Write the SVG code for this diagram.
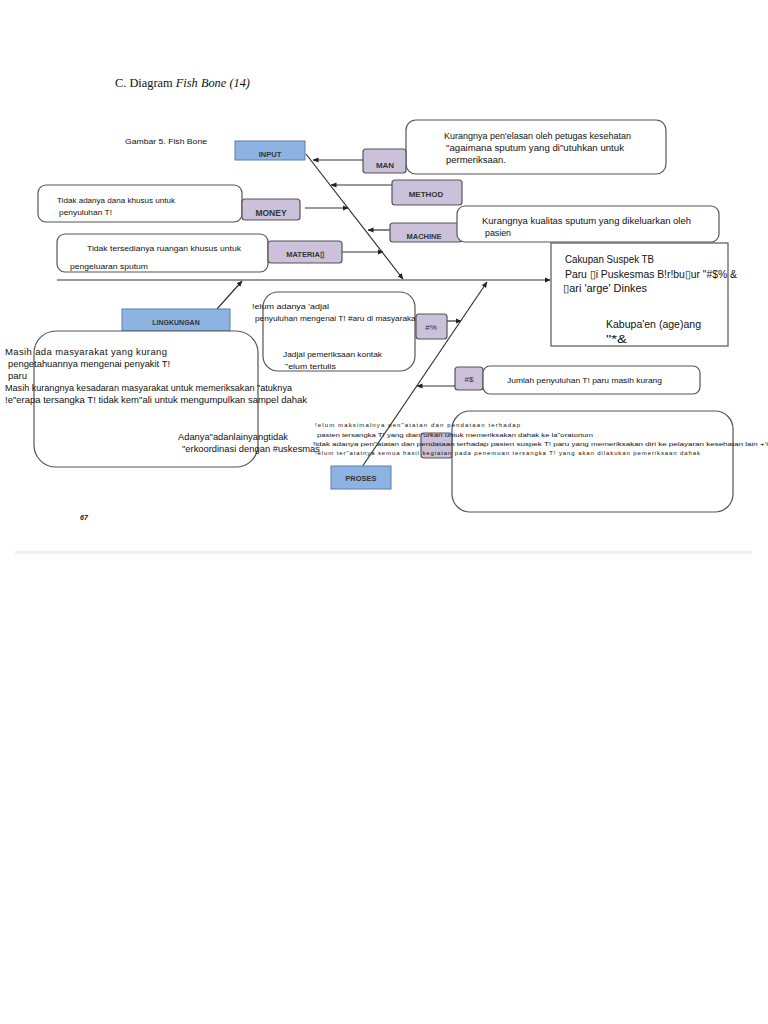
<svg xmlns="http://www.w3.org/2000/svg" width="768" height="1024" viewBox="0 0 768 1024">
<defs>
<marker id="ah" markerWidth="6" markerHeight="6" refX="5.5" refY="3" orient="auto" markerUnits="userSpaceOnUse">
<path d="M0,0.4 L6,3 L0,5.6 Z" fill="#222"/>
</marker>
<style>
.lbl{font-family:"Liberation Sans",Arial,sans-serif;font-weight:bold;fill:#333;text-anchor:middle}
.txt{font-family:"Liberation Sans",Arial,sans-serif;fill:#111}
.blue{fill:#8db3e2;stroke:#5a7fb0;stroke-width:1}
.purple{fill:#ccc1da;stroke:#555;stroke-width:1.2}
.cm{fill:#fff;stroke:#555;stroke-width:1.2}
.ln{stroke:#333;stroke-width:1.2;fill:none}
</style>
</defs>
<rect width="768" height="1024" fill="#fff"/>
<text x="115" y="87" font-family="'Liberation Serif',serif" font-size="12.5" fill="#111" textLength="135" lengthAdjust="spacingAndGlyphs">C. Diagram <tspan font-style="italic">Fish Bone (14)</tspan></text>
<text class="txt" x="125" y="144" font-size="7.5" textLength="82" lengthAdjust="spacingAndGlyphs">Gambar 5. Fish Bone</text>

<g id="connectors">
<line class="ln" x1="57" y1="280" x2="550" y2="280" marker-end="url(#ah)"/>
<line class="ln" x1="306" y1="154" x2="403" y2="279" marker-end="url(#ah)"/>
<line class="ln" x1="362" y1="467" x2="487" y2="282" marker-end="url(#ah)"/>
<line class="ln" x1="363" y1="160" x2="313" y2="160" marker-end="url(#ah)"/>
<line class="ln" x1="392" y1="185" x2="331" y2="185" marker-end="url(#ah)"/>
<line class="ln" x1="305" y1="208" x2="348" y2="208" marker-end="url(#ah)"/>
<line class="ln" x1="390" y1="230" x2="368" y2="230" marker-end="url(#ah)"/>
<line class="ln" x1="342" y1="252" x2="383" y2="252" marker-end="url(#ah)"/>
<line class="ln" x1="217" y1="309" x2="242" y2="281" marker-end="url(#ah)"/>
<line class="ln" x1="446" y1="321" x2="461" y2="321" marker-end="url(#ah)"/>
<line class="ln" x1="455" y1="386" x2="417" y2="386" marker-end="url(#ah)"/>
</g>

<g id="input">
<rect class="blue" x="235" y="141" width="70" height="19"/>
<text class="lbl" x="270" y="157" font-size="7.5">INPUT</text>
</g>

<g id="man-comment">
<rect class="cm" x="406" y="120" width="260" height="54" rx="10"/>
<text class="txt" x="444" y="139" font-size="8.5" textLength="187" lengthAdjust="spacingAndGlyphs">Kurangnya pen'elasan oleh petugas kesehatan</text>
<text class="txt" x="446" y="151" font-size="8.5" textLength="178" lengthAdjust="spacingAndGlyphs">"agaimana sputum yang di"utuhkan untuk</text>
<text class="txt" x="446" y="163" font-size="8.5" textLength="60" lengthAdjust="spacingAndGlyphs">permeriksaan.</text>
</g>
<g id="man">
<rect class="purple" x="363" y="149" width="43" height="24" rx="3"/>
<text class="lbl" x="385" y="168" font-size="8">MAN</text>
</g>

<g id="method">
<rect class="purple" x="392" y="180" width="70" height="25" rx="3"/>
<text class="lbl" x="426" y="197" font-size="8">METHOD</text>
</g>

<g id="machine">
<rect class="purple" x="390" y="223" width="72" height="19" rx="3"/>
<text class="lbl" x="424" y="239" font-size="7.5">MACHINE</text>
</g>
<g id="machine-comment">
<rect class="cm" x="457" y="206" width="262" height="36" rx="8"/>
<text class="txt" x="482" y="224" font-size="9" textLength="209" lengthAdjust="spacingAndGlyphs">Kurangnya kualitas sputum yang dikeluarkan oleh</text>
<text class="txt" x="485" y="236" font-size="9" textLength="26" lengthAdjust="spacingAndGlyphs">pasien</text>
</g>

<g id="money-comment">
<rect class="cm" x="38" y="185" width="204" height="37" rx="8"/>
<text class="txt" x="57" y="203" font-size="7" textLength="118" lengthAdjust="spacingAndGlyphs">Tidak adanya dana khusus untuk</text>
<text class="txt" x="59" y="215" font-size="7" textLength="53" lengthAdjust="spacingAndGlyphs">penyuluhan T!</text>
</g>
<g id="money">
<rect class="purple" x="242" y="199" width="58" height="21" rx="3"/>
<text class="lbl" x="271" y="216" font-size="8.5">MONEY</text>
</g>

<g id="material-comment">
<rect class="cm" x="57" y="234" width="211" height="38" rx="8"/>
<text class="txt" x="87" y="251" font-size="7" textLength="154" lengthAdjust="spacingAndGlyphs">Tidak tersedianya ruangan khusus untuk</text>
<text class="txt" x="70" y="269" font-size="7" textLength="78" lengthAdjust="spacingAndGlyphs">pengeluaran sputum</text>
</g>
<g id="material">
<rect class="purple" x="268" y="241" width="74" height="22" rx="3"/>
<text class="lbl" x="305" y="257" font-size="7.5">MATERIA▯</text>
</g>

<g id="effect">
<rect x="551" y="243" width="177" height="103" fill="#fff" stroke="#555" stroke-width="1.2"/>
<text class="txt" x="565" y="263" font-size="10.5" textLength="89" lengthAdjust="spacingAndGlyphs">Cakupan Suspek TB</text>
<text class="txt" x="565" y="278" font-size="10.5" textLength="172" lengthAdjust="spacingAndGlyphs">Paru ▯i Puskesmas B!r!bu▯ur "#$% &amp;</text>
<text class="txt" x="563" y="292" font-size="10.5" textLength="84" lengthAdjust="spacingAndGlyphs">▯ari 'arge' Dinkes</text>
<text class="txt" x="606" y="328" font-size="10.5" textLength="95" lengthAdjust="spacingAndGlyphs">Kabupa'en (age)ang</text>
<text class="txt" x="606" y="343" font-size="10.5" textLength="21" lengthAdjust="spacingAndGlyphs">"*&amp;</text>
</g>

<g id="lingkungan">
<rect class="blue" x="122" y="309" width="108" height="22"/>
<text class="lbl" x="176" y="325" font-size="7">LINGKUNGAN</text>
</g>
<g id="lingkungan-comment">
<rect class="cm" x="34" y="331" width="224" height="136" rx="22"/>
<text class="txt" x="5" y="355" font-size="9.5" textLength="162" lengthAdjust="spacing">Masih  ada  masyarakat  yang   kurang</text>
<text class="txt" x="8" y="367" font-size="9.5" textLength="162" lengthAdjust="spacingAndGlyphs">pengetahuannya mengenai penyakit T!</text>
<text class="txt" x="8" y="379" font-size="9.5" textLength="19" lengthAdjust="spacingAndGlyphs">paru</text>
<text class="txt" x="5" y="391" font-size="9.5" textLength="287" lengthAdjust="spacingAndGlyphs">Masih kurangnya kesadaran masyarakat untuk memeriksakan "atuknya</text>
<text class="txt" x="5" y="403" font-size="9.5" textLength="302" lengthAdjust="spacingAndGlyphs">!e"erapa  tersangka  T!  tidak  kem"ali untuk mengumpulkan sampel dahak</text>
<text class="txt" x="178" y="440" font-size="9.5" textLength="110" lengthAdjust="spacingAndGlyphs">Adanya"adanlainyangtidak</text>
<text class="txt" x="182" y="452" font-size="9.5" textLength="138" lengthAdjust="spacingAndGlyphs">"erkoordinasi dengan #uskesmas</text>
</g>

<g id="c1-comment">
<rect class="cm" x="263" y="292" width="152" height="79" rx="15"/>
<text class="txt" x="252" y="309" font-size="7" textLength="77" lengthAdjust="spacingAndGlyphs">!elum adanya 'adjal</text>
<text class="txt" x="255" y="321" font-size="7" textLength="163" lengthAdjust="spacingAndGlyphs">penyuluhan mengenai T! #aru di masyarakat</text>
<text class="txt" x="283" y="357" font-size="7" textLength="99" lengthAdjust="spacingAndGlyphs">Jadjal pemeriksaan kontak</text>
<text class="txt" x="285" y="369" font-size="7" textLength="51" lengthAdjust="spacingAndGlyphs">"elum tertulis</text>
</g>
<g id="c1">
<rect class="purple" x="416" y="314" width="31" height="25" rx="3"/>
<text x="431" y="330" font-family="'Liberation Sans',Arial,sans-serif" font-size="8" fill="#333" text-anchor="middle">#%</text>
</g>

<g id="c2">
<rect class="purple" x="455" y="367" width="28" height="23" rx="3"/>
<text x="469" y="382" font-family="'Liberation Sans',Arial,sans-serif" font-size="8" fill="#333" text-anchor="middle">#$</text>
</g>
<g id="c2-comment">
<rect class="cm" x="483" y="366" width="217" height="28" rx="7"/>
<text class="txt" x="507" y="383" font-size="7" textLength="155" lengthAdjust="spacingAndGlyphs">Jumlah penyuluhan T! paru masih kurang</text>
</g>

<g id="proses-comment">
<rect class="cm" x="452" y="411" width="281" height="101" rx="18"/>
<rect class="purple" x="421" y="433" width="31" height="25" rx="3"/>
<text class="txt" x="315" y="427" font-size="6" textLength="205" lengthAdjust="spacing">!elum  maksimalnya  pen"atatan  dan  pendataan  terhadap</text>
<text class="txt" x="317" y="437" font-size="6" textLength="276" lengthAdjust="spacingAndGlyphs">pasien tersangka T! yang dian"urkan untuk memeriksakan dahak ke la"oratorium</text>
<text class="txt" x="313" y="446" font-size="6" textLength="455" lengthAdjust="spacingAndGlyphs">!idak adanya pen"atatan dan pendataan terhadap pasien suspek T!  paru  yang  memeriksakan  diri  ke  pelayaran kesehatan lain +'i</text>
<text class="txt" x="315" y="455" font-size="6" textLength="385" lengthAdjust="spacing">!elum  ter"atatnya  semua  hasil  kegiatan  pada  penemuan tersangka T! yang akan dilakukan pemeriksaan dahak</text>
</g>
<g id="proses">
<rect class="blue" x="331" y="466" width="60" height="23"/>
<text class="lbl" x="361" y="481" font-size="7.5">PROSES</text>
</g>

<text x="80" y="520" font-family="'Liberation Sans',Arial,sans-serif" font-size="7" font-weight="bold" font-style="italic" fill="#111">67</text>
<rect x="15" y="551" width="737" height="3" fill="#eef0f4"/>
</svg>
